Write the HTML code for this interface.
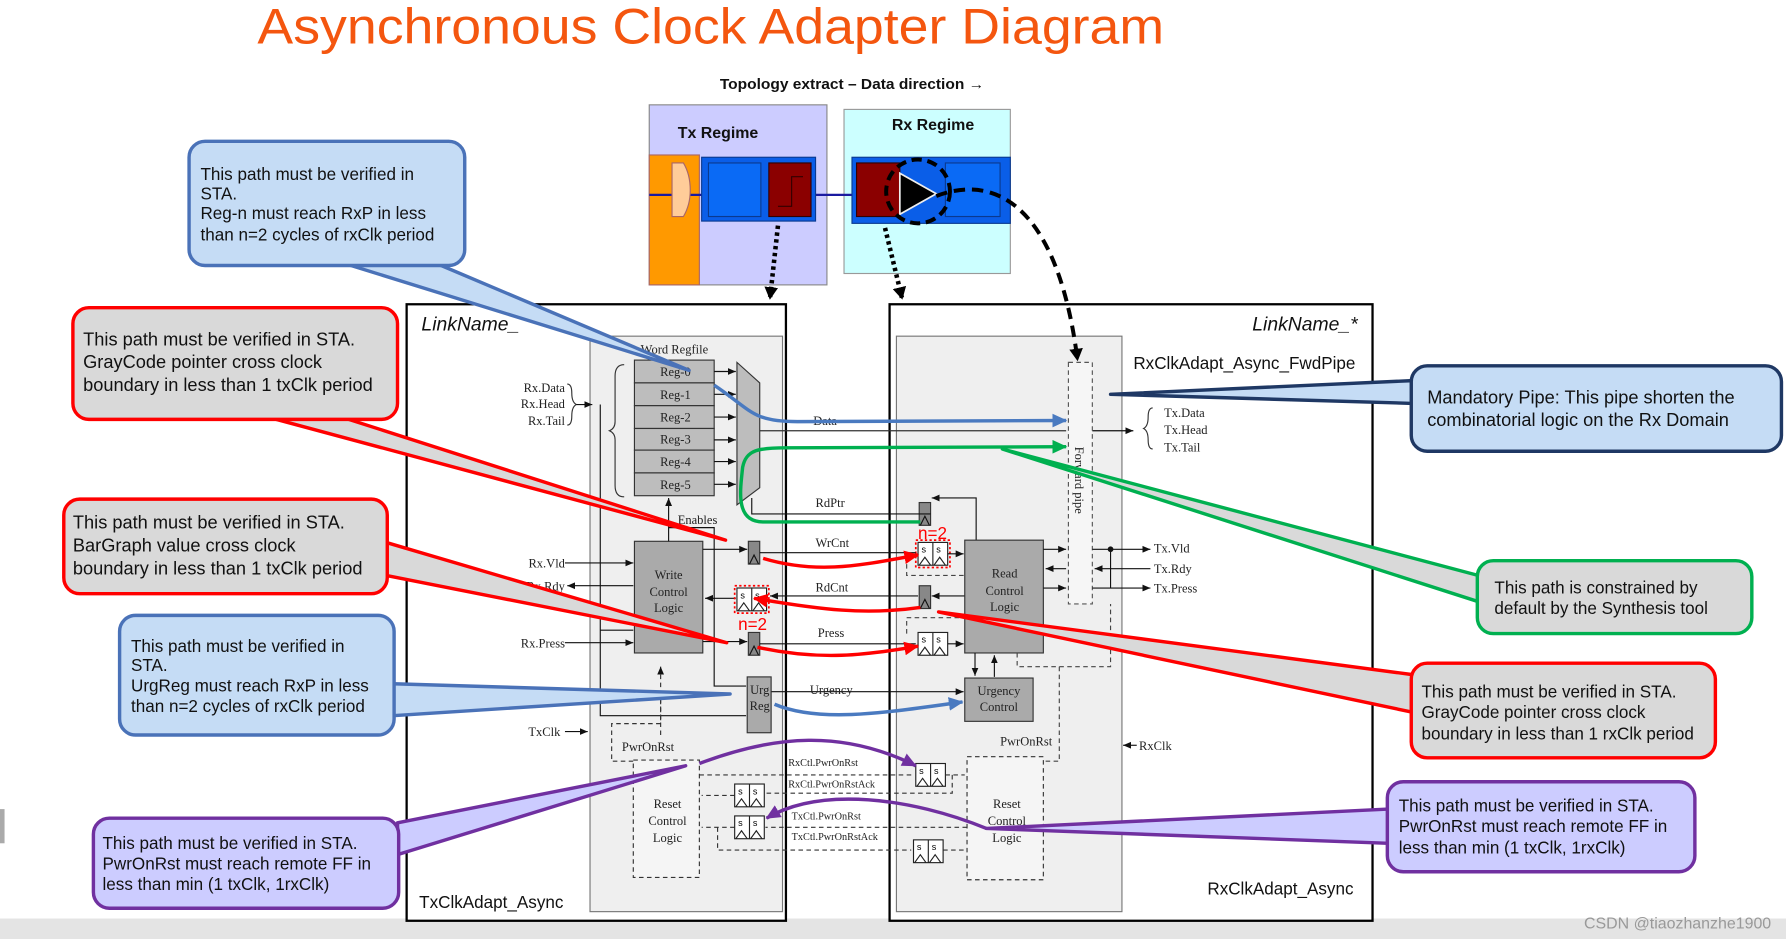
<!DOCTYPE html>
<html><head><meta charset="utf-8"><style>
html,body{margin:0;padding:0;background:#fff;width:1786px;height:939px;overflow:hidden}
svg{display:block}
.s{font-family:"Liberation Serif",serif;font-size:11px;fill:#222}
.a{font-family:"Liberation Sans",sans-serif;fill:#111}
.c{font-family:"Liberation Sans",sans-serif;font-size:15px;fill:#111}
</style></head><body>
<svg width="1786" height="939" viewBox="0 0 1568 824" preserveAspectRatio="none" xmlns="http://www.w3.org/2000/svg">
<defs>
<marker id="ak" markerWidth="8" markerHeight="8" refX="7" refY="4" orient="auto" markerUnits="userSpaceOnUse"><path d="M0,1 L7,4 L0,7z" fill="#111"/></marker>
<marker id="ab" markerWidth="14" markerHeight="12" refX="12" refY="6" orient="auto" markerUnits="userSpaceOnUse"><path d="M0,0 L13,6 L0,12z" fill="#4a7ac0"/></marker>
<marker id="ag" markerWidth="14" markerHeight="12" refX="12" refY="6" orient="auto" markerUnits="userSpaceOnUse"><path d="M0,0 L13,6 L0,12z" fill="#00b050"/></marker>
<marker id="ar" markerWidth="14" markerHeight="12" refX="12" refY="6" orient="auto" markerUnits="userSpaceOnUse"><path d="M0,0 L13,6 L0,12z" fill="#f00"/></marker>
<marker id="ap" markerWidth="14" markerHeight="12" refX="12" refY="6" orient="auto" markerUnits="userSpaceOnUse"><path d="M0,0 L13,6 L0,12z" fill="#7030a0"/></marker>
<marker id="ad" markerWidth="12" markerHeight="12" refX="10" refY="6" orient="auto" markerUnits="userSpaceOnUse"><path d="M0,0 L11,6 L0,12z" fill="#000"/></marker>
<g id="ss"><rect x="0" y="0" width="26" height="20" fill="#fff" stroke="#222"/><line x1="13" y1="0" x2="13" y2="20" stroke="#222"/><text x="3" y="9" font-size="8" font-family="Liberation Sans">s</text><text x="16" y="9" font-size="8" font-family="Liberation Sans">s</text><path d="M1,20 L6,13 L11,20 M14,20 L19,13 L24,20" fill="none" stroke="#222"/></g>
<g id="ff"><rect x="0" y="0" width="10" height="20" fill="#888" stroke="#333"/><path d="M1,20 L5,12 L9,20" fill="none" stroke="#111"/></g>
</defs>

<rect x="0" y="806" width="1568" height="18" fill="#e4e4e4"/>
<rect x="0" y="710" width="4" height="30" fill="#aaa"/>

<text x="226" y="38" font-family="Liberation Sans,sans-serif" font-size="44" fill="#f4560f" textLength="796" lengthAdjust="spacingAndGlyphs">Asynchronous Clock Adapter Diagram</text>
<text x="632" y="78" class="a" font-size="13" font-weight="bold" textLength="232" lengthAdjust="spacingAndGlyphs">Topology extract  – Data direction →</text>

<rect x="570" y="92" width="156" height="158" fill="#ccccff" stroke="#888"/>
<rect x="570" y="136" width="44" height="114" fill="#ff9900" stroke="#a66"/>
<rect x="741" y="96" width="146" height="144" fill="#ccffff" stroke="#999"/>
<text x="595" y="121" class="a" font-size="14" font-weight="bold">Tx Regime</text>
<text x="783" y="114" class="a" font-size="14" font-weight="bold">Rx Regime</text>
<line x1="570" y1="171" x2="887" y2="171" stroke="#1a1aa0" stroke-width="2"/>
<path d="M590,143 h10 q6,10 6,24 q0,13 -6,23 h-10z" fill="#ffcc99" stroke="#a66"/>
<rect x="616" y="138" width="100" height="56" fill="#0a5ee8" stroke="#0a3a90"/>
<rect x="622" y="143" width="46" height="47" fill="#0a6af5" stroke="#0a3a90"/>
<rect x="675" y="143" width="37" height="47" fill="#8b0000" stroke="#300"/>
<path d="M683,181 h12 v-26 h10" fill="none" stroke="#300"/>
<rect x="748" y="138" width="139" height="58" fill="#0a5ee8" stroke="#0a3a90"/>
<rect x="752" y="143" width="38" height="47" fill="#8b0000" stroke="#300"/>
<rect x="830" y="143" width="48" height="47" fill="#0a6af5" stroke="#0a3a90"/>
<path d="M790,152 L822,170 L790,188z" fill="#000" stroke="#eee" stroke-width="1.5"/>
<circle cx="806" cy="168" r="28" fill="none" stroke="#000" stroke-width="3.5" stroke-dasharray="9,5"/>

<rect x="357" y="267" width="333" height="541" fill="#fff" stroke="#000" stroke-width="2"/>
<rect x="518" y="295" width="169" height="505" fill="#efefef" stroke="#777"/>
<rect x="781" y="267" width="424" height="541" fill="#fff" stroke="#000" stroke-width="2"/>
<rect x="787" y="295" width="198" height="505" fill="#efefef" stroke="#777"/>
<text x="370" y="290" class="a" font-size="17" font-style="italic">LinkName_</text>
<text x="1192" y="290" class="a" font-size="17" font-style="italic" text-anchor="end">LinkName_*</text>
<text x="995" y="324" class="c">RxClkAdapt_Async_FwdPipe</text>
<text x="368" y="797" class="c">TxClkAdapt_Async</text>
<text x="1060" y="785" class="c">RxClkAdapt_Async</text>

<path d="M683,198 L676,262" stroke="#000" stroke-width="4" stroke-dasharray="3,3" marker-end="url(#ad)" fill="none"/>
<path d="M777,200 L792,262" stroke="#000" stroke-width="4" stroke-dasharray="3,3" marker-end="url(#ad)" fill="none"/>

<text x="557" y="310" class="s" font-size="12">nWord Regfile</text>
<g fill="#bdbdbd" stroke="#333">
<rect x="557" y="316" width="70" height="20"/><rect x="557" y="336" width="70" height="20"/><rect x="557" y="356" width="70" height="20"/>
<rect x="557" y="376" width="70" height="19"/><rect x="557" y="395" width="70" height="20"/><rect x="557" y="415" width="70" height="20"/>
</g>
<g class="s" font-size="12" text-anchor="middle">
<text x="593" y="330">Reg-0</text><text x="593" y="350">Reg-1</text><text x="593" y="370">Reg-2</text><text x="593" y="389">Reg-3</text><text x="593" y="409">Reg-4</text><text x="593" y="429">Reg-5</text></g>
<g stroke="#111" marker-end="url(#ak)">
<line x1="627" y1="326" x2="646" y2="326"/><line x1="627" y1="346" x2="646" y2="346"/><line x1="627" y1="366" x2="646" y2="366"/><line x1="627" y1="386" x2="646" y2="386"/><line x1="627" y1="405" x2="646" y2="405"/><line x1="627" y1="425" x2="646" y2="425"/></g>
<path d="M647,318 L667,336 L667,428 L647,443z" fill="#bdbdbd" stroke="#333"/>
<path d="M548,320 q-8,0 -8,10 v40 q0,6 -5,8 q5,2 5,8 v40 q0,10 8,10" fill="none" stroke="#333"/>
<line x1="667" y1="378" x2="936" y2="378" stroke="#333"/>
<path d="M958,378 L995,378" stroke="#111" marker-end="url(#ak)"/>

<g class="s" text-anchor="end">
<text x="496" y="344">Rx.Data</text><text x="496" y="358">Rx.Head</text><text x="496" y="373">Rx.Tail</text>
<text x="496" y="498">Rx.Vld</text><text x="496" y="518">Rx.Rdy</text><text x="496" y="568">Rx.Press</text><text x="492" y="646">TxClk</text></g>
<path d="M498,337 q4,0 4,8 q0,8 4,10 q-4,2 -4,10 q0,8 -4,8" fill="none" stroke="#333"/>
<line x1="506" y1="355" x2="520" y2="355" stroke="#111" marker-end="url(#ak)"/>
<line x1="496" y1="494" x2="556" y2="494" stroke="#111" marker-end="url(#ak)"/>
<line x1="556" y1="514" x2="498" y2="514" stroke="#111" marker-end="url(#ak)"/>
<line x1="496" y1="564" x2="556" y2="564" stroke="#111" marker-end="url(#ak)"/>
<line x1="496" y1="642" x2="516" y2="642" stroke="#111" marker-end="url(#ak)"/>
<path d="M527,355 V628 H655 M527,553 H556" fill="none" stroke="#111"/>

<rect x="557" y="475" width="60" height="98" fill="#aaa" stroke="#333"/>
<text x="587" y="508" class="s" font-size="12" text-anchor="middle">Write</text><text x="587" y="523" class="s" font-size="12" text-anchor="middle">Control</text><text x="587" y="537" class="s" font-size="12" text-anchor="middle">Logic</text>
<line x1="587" y1="475" x2="587" y2="437" stroke="#111" marker-end="url(#ak)"/>
<path d="M587,463 H627 V476 M627,463 V602 H655" fill="none" stroke="#111"/>
<text x="595" y="460" class="s" font-size="10">Enables</text>
<line x1="617" y1="482" x2="656" y2="482" stroke="#111" marker-end="url(#ak)"/>
<line x1="617" y1="563" x2="656" y2="563" stroke="#111" marker-end="url(#ak)"/>
<line x1="646" y1="525" x2="619" y2="525" stroke="#111" marker-end="url(#ak)"/>
<path d="M580,645 V585" stroke="#333" stroke-dasharray="4,3" marker-end="url(#ak)" fill="none"/>
<path d="M580,607 V635 H537 V668 H556" stroke="#333" stroke-dasharray="4,3" fill="none"/>
<use href="#ff" x="657" y="475"/><use href="#ff" x="657" y="555"/>
<use href="#ff" x="807" y="441"/><use href="#ff" x="807" y="514"/>
<use href="#ss" x="647" y="516"/><rect x="645" y="514" width="30" height="24" fill="none" stroke="#f00" stroke-dasharray="2,2" stroke-width="1.5"/>
<use href="#ss" x="806" y="476"/><rect x="804" y="474" width="30" height="24" fill="none" stroke="#f00" stroke-dasharray="2,2" stroke-width="1.5"/>
<use href="#ss" x="806" y="555"/>
<text x="806" y="473" font-family="Liberation Sans" font-size="15" fill="#f00">n=2</text>
<text x="648" y="553" font-family="Liberation Sans" font-size="15" fill="#f00">n=2</text>
<g stroke="#111" fill="none">
<line x1="667" y1="485" x2="804" y2="485"/><line x1="667" y1="565" x2="804" y2="565"/>
<path d="M806,523 H676" marker-end="url(#ak)"/>
<path d="M847,523 H818" marker-end="url(#ak)"/>
<path d="M847,437 V437 H857 V474 M857,437 H818" marker-end="url(#ak)"/>
<path d="M817,451 H660 V437"/>
<path d="M832,486 H846" marker-end="url(#ak)"/><path d="M832,565 H846" marker-end="url(#ak)"/>
<path d="M677,607 H846" marker-end="url(#ak)"/>
</g>
<path d="M796,488 V505 H846 M796,556 V542 H846" fill="none" stroke="#444" stroke-dasharray="4,3"/>
<rect x="656" y="594" width="21" height="49" fill="#aaa" stroke="#333"/>
<text x="667" y="609" class="s" font-size="11" text-anchor="middle">Urg</text><text x="667" y="623" class="s" font-size="11" text-anchor="middle">Reg</text>
<g class="s" font-size="11">
<text x="714" y="373">Data</text><text x="716" y="445">RdPtr</text><text x="716" y="480">WrCnt</text><text x="716" y="519">RdCnt</text><text x="718" y="559">Press</text><text x="711" y="609">Urgency</text>
<text x="692" y="672" font-size="9">RxCtl.PwrOnRst</text><text x="692" y="691" font-size="9">RxCtl.PwrOnRstAck</text>
<text x="695" y="719" font-size="9">TxCtl.PwrOnRst</text><text x="695" y="737" font-size="9">TxCtl.PwrOnRstAck</text>
<text x="546" y="659">PwrOnRst</text><text x="878" y="654">PwrOnRst</text>
<text x="1000" y="658">RxClk</text></g>
<line x1="998" y1="654" x2="986" y2="654" stroke="#111" marker-end="url(#ak)"/>

<rect x="847" y="474" width="69" height="99" fill="#aaa" stroke="#333"/>
<text x="882" y="507" class="s" font-size="12" text-anchor="middle">Read</text><text x="882" y="522" class="s" font-size="12" text-anchor="middle">Control</text><text x="882" y="536" class="s" font-size="12" text-anchor="middle">Logic</text>
<rect x="847" y="595" width="60" height="38" fill="#aaa" stroke="#333"/>
<text x="877" y="610" class="s" font-size="11" text-anchor="middle">Urgency</text><text x="877" y="624" class="s" font-size="11" text-anchor="middle">Control</text>
<line x1="856" y1="573" x2="856" y2="593" stroke="#111" marker-end="url(#ak)"/>
<line x1="873" y1="594" x2="873" y2="575" stroke="#111" marker-end="url(#ak)"/>
<rect x="938" y="318" width="21" height="212" fill="#f6f6f6" stroke="#555" stroke-dasharray="4,3"/>
<text transform="translate(944,392) rotate(90)" class="s" font-size="12">Forward pipe</text>
<path d="M822,172 C880,150 930,190 946,316" stroke="#000" stroke-width="3.5" stroke-dasharray="10,6" marker-end="url(#ad)" fill="none"/>
<g stroke="#111" fill="none">
<path d="M916,482 H936" marker-end="url(#ak)"/><path d="M936,499 H918" marker-end="url(#ak)"/><path d="M916,516 H936" marker-end="url(#ak)"/>
<path d="M959,482 H1010" marker-end="url(#ak)"/><path d="M1010,499 H961" marker-end="url(#ak)"/><path d="M959,516 H1010" marker-end="url(#ak)"/>
<path d="M975,482 V516"/></g>
<circle cx="975" cy="482" r="2.5" fill="#111"/>
<path d="M1012,358 q-4,0 -4,8 q0,8 -4,10 q4,2 4,10 q0,8 4,8" fill="none" stroke="#333"/>
<g class="s"><text x="1022" y="366">Tx.Data</text><text x="1022" y="381">Tx.Head</text><text x="1022" y="396">Tx.Tail</text>
<text x="1013" y="485">Tx.Vld</text><text x="1013" y="503">Tx.Rdy</text><text x="1013" y="520">Tx.Press</text></g>
<path d="M893,573 V585 H975 V530 M930,585 V668 H916" fill="none" stroke="#444" stroke-dasharray="4,3"/>

<rect x="556" y="667" width="58" height="103" fill="#f5f5f5" stroke="#333" stroke-dasharray="4,3"/>
<text x="586" y="709" class="s" font-size="12" text-anchor="middle">Reset</text><text x="586" y="724" class="s" font-size="12" text-anchor="middle">Control</text><text x="586" y="739" class="s" font-size="12" text-anchor="middle">Logic</text>
<rect x="849" y="664" width="67" height="108" fill="#f5f5f5" stroke="#333" stroke-dasharray="4,3"/>
<text x="884" y="709" class="s" font-size="12" text-anchor="middle">Reset</text><text x="884" y="724" class="s" font-size="12" text-anchor="middle">Control</text><text x="884" y="739" class="s" font-size="12" text-anchor="middle">Logic</text>
<use href="#ss" x="804" y="670"/><use href="#ss" x="645" y="688"/><use href="#ss" x="645" y="716"/><use href="#ss" x="802" y="737"/>
<g stroke="#333" stroke-dasharray="4,3" fill="none">
<path d="M614,680 H802"/><path d="M830,680 H847"/><path d="M836,680 V696 H672"/><path d="M645,698 H616"/>
<path d="M849,726 H672"/><path d="M645,726 H616"/><path d="M630,726 V746 H800"/><path d="M828,746 H847"/></g>

<path d="M627,338 C660,360 660,370 700,370 L936,369" fill="none" stroke="#4a7ac0" stroke-width="3" marker-end="url(#ab)"/>
<path d="M808,458 L670,458 C645,458 650,430 652,410 C655,395 665,393 690,393 L936,392" fill="none" stroke="#00b050" stroke-width="3" marker-end="url(#ag)"/>
<path d="M670,490 C720,505 760,495 806,487" fill="none" stroke="#f00" stroke-width="3" marker-end="url(#ar)"/>
<path d="M808,533 C760,540 720,535 662,525" fill="none" stroke="#f00" stroke-width="3" marker-end="url(#ar)"/>
<path d="M665,568 C720,580 760,575 806,567" fill="none" stroke="#f00" stroke-width="3" marker-end="url(#ar)"/>
<path d="M680,618 C720,635 780,625 845,616" fill="none" stroke="#4a7ac0" stroke-width="3" marker-end="url(#ab)"/>
<path d="M614,670 C680,645 740,640 804,672" fill="none" stroke="#7030a0" stroke-width="3" marker-end="url(#ap)"/>
<path d="M866,727 C800,700 720,690 673,718" fill="none" stroke="#7030a0" stroke-width="3" marker-end="url(#ap)"/>

<g stroke-width="3" stroke-linejoin="round">
<path d="M305,232 L605,325 L385,232z" fill="#c5dcf5" stroke="#4a72b8"/>
<rect x="166" y="124" width="242" height="109" rx="14" fill="#c5dcf5" stroke="#4a72b8"/>
<path d="M235,366 L637,474 L300,366z" fill="#d9d9d9" stroke="#f00"/>
<rect x="64" y="270" width="285" height="98" rx="14" fill="#d9d9d9" stroke="#f00"/>
<path d="M339,476 L638,564 L339,505z" fill="#d9d9d9" stroke="#f00"/>
<rect x="56" y="438" width="284" height="83" rx="14" fill="#d9d9d9" stroke="#f00"/>
<path d="M345,600 L641,609 L345,628z" fill="#c5dcf5" stroke="#4a72b8"/>
<rect x="105" y="540" width="241" height="105" rx="14" fill="#c5dcf5" stroke="#4a72b8"/>
<path d="M349,722 L602,672 L349,750z" fill="#ccccff" stroke="#7030a0"/>
<rect x="82" y="718" width="268" height="79" rx="14" fill="#ccccff" stroke="#7030a0"/>
<path d="M1240,334 L975,346 L1240,354z" fill="#c5dcf5" stroke="#1f3864"/>
<rect x="1239" y="321" width="325" height="75" rx="14" fill="#c5dcf5" stroke="#1f3864"/>
<path d="M1298,505 L880,394 L1298,528z" fill="#d9d9d9" stroke="#00b050"/>
<rect x="1297" y="492" width="241" height="64" rx="14" fill="#d9d9d9" stroke="#00b050"/>
<path d="M1240,592 L824,537 L1240,625z" fill="#d9d9d9" stroke="#f00"/>
<rect x="1239" y="582" width="267" height="83" rx="14" fill="#d9d9d9" stroke="#f00"/>
<path d="M1219,710 L866,727 L1219,740z" fill="#ccccff" stroke="#7030a0"/>
<rect x="1218" y="686" width="270" height="79" rx="14" fill="#ccccff" stroke="#7030a0"/>
</g>
<g class="c">
<text x="176" y="158">This path must be verified in</text><text x="176" y="175">STA.</text><text x="176" y="192">Reg-n must reach RxP in less</text><text x="176" y="211">than n=2 cycles of rxClk period</text>
<text x="73" y="303" font-size="16">This path must be verified in STA.</text><text x="73" y="323" font-size="16">GrayCode pointer cross clock</text><text x="73" y="343" font-size="16">boundary in less than 1 txClk period</text>
<text x="64" y="464" font-size="16">This path must be verified in STA.</text><text x="64" y="484" font-size="16">BarGraph value cross clock</text><text x="64" y="504" font-size="16">boundary in less than 1 txClk period</text>
<text x="115" y="572">This path must be verified in</text><text x="115" y="589">STA.</text><text x="115" y="607">UrgReg must reach RxP in less</text><text x="115" y="625">than n=2 cycles of rxClk period</text>
<text x="90" y="745">This path must be verified in STA.</text><text x="90" y="763">PwrOnRst must reach remote FF in</text><text x="90" y="781">less than min (1 txClk, 1rxClk)</text>
<text x="1253" y="354" font-size="16">Mandatory Pipe: This pipe shorten the</text><text x="1253" y="374" font-size="16">combinatorial logic on the Rx Domain</text>
<text x="1312" y="521">This path is constrained by</text><text x="1312" y="539">default by the Synthesis tool</text>
<text x="1248" y="612">This path must be verified in STA.</text><text x="1248" y="630">GrayCode pointer cross clock</text><text x="1248" y="649">boundary in less than 1 rxClk period</text>
<text x="1228" y="712">This path must be verified in STA.</text><text x="1228" y="730">PwrOnRst must reach remote FF in</text><text x="1228" y="749">less than min (1 txClk, 1rxClk)</text>
</g>
<text x="1555" y="815" font-family="Liberation Sans" font-size="14" fill="#999" text-anchor="end">CSDN @tiaozhanzhe1900</text>
</svg>
</body></html>
